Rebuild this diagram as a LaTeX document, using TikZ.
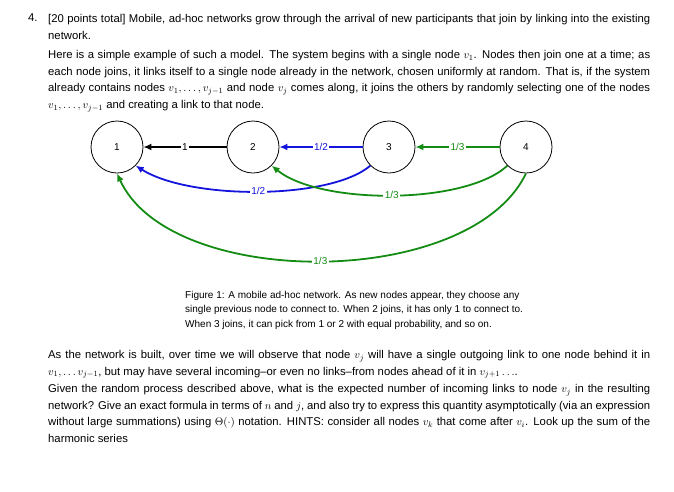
\documentclass[tikz,border=0pt]{standalone}
\usepackage{fontspec}
\setmainfont{Liberation Sans}
\usepackage{amsmath}
\usetikzlibrary{arrows.meta}
\begin{document}
\begin{tikzpicture}[x=1pt,y=-1pt,
  circ/.style={circle,draw,thick,minimum size=52pt,inner sep=0pt,font=\normalsize},
  lbl/.style={fill=white,inner sep=1.5pt,font=\normalsize},
  para/.style={anchor=north west,align=justify,text width=602pt,font=\fontsize{11.3}{16.8}\selectfont,inner sep=0pt},
  arr/.style={-{Latex[length=8pt,width=7pt]},line width=1.8pt}]
\useasboundingbox (0,0) rectangle (674,491);
\definecolor{myblue}{RGB}{20,20,220}
\definecolor{mygreen}{RGB}{20,140,20}
\node[anchor=north west,inner sep=0pt,font=\fontsize{11.3}{16.8}\selectfont] (num) at (28,14) {4.};
\node[para] (p1) at (48,14) {[20 points total] Mobile, ad-hoc networks grow through the arrival of new participants that join by linking into the existing network.};
\node[para] (p2) at (48,50) {Here is a simple example of such a model. The system begins with a single node $v_1$. Nodes then join one at a time; as each node joins, it links itself to a single node already in the network, chosen uniformly at random. That is, if the system already contains nodes $v_1,\ldots,v_{j-1}$ and node $v_j$ comes along, it joins the others by randomly selecting one of the nodes $v_1,\ldots,v_{j-1}$ and creating a link to that node.};
\node[circ] (n1) at (117,147) {1};
\node[circ] (n2) at (253,147) {2};
\node[circ] (n3) at (389,147) {3};
\node[circ] (n4) at (526,147) {4};
\draw[arr] (n2) -- node[lbl]{1} (n1);
\draw[arr,myblue] (n3) -- node[lbl,text=myblue]{1/2} (n2);
\draw[arr,mygreen] (n4) -- node[lbl,text=mygreen]{1/3} (n3);
\draw[arr,myblue] (n3.south west) .. controls (330,200) and (190,200) .. node[lbl,text=myblue,pos=0.5]{1/2} (n1.south east);
\draw[arr,mygreen] (n4.south west) .. controls (465,205) and (320,205) .. node[lbl,text=mygreen,pos=0.5]{1/3} (n2.south east);
\draw[arr,mygreen] (n4.south) .. controls (470,290) and (170,290) .. node[lbl,text=mygreen,pos=0.5]{1/3} (n1.south);
\node[anchor=north west,align=left,inner sep=0pt,font=\fontsize{10}{14.5}\selectfont] (cap) at (185,291) {Figure 1: A mobile ad-hoc network. As new nodes appear, they choose any\\single previous node to connect to. When 2 joins, it has only 1 to connect to.\\When 3 joins, it can pick from 1 or 2 with equal probability, and so on.};
\node[para] (p3) at (48,350) {As the network is built, over time we will observe that node $v_j$ will have a single outgoing link to one node behind it in $v_1,\ldots v_{j-1}$, but may have several incoming--or even no links--from nodes ahead of it in $v_{j+1}\ldots$.};
\node[para] (p4) at (48,384) {Given the random process described above, what is the expected number of incoming links to node $v_j$ in the resulting network? Give an exact formula in terms of $n$ and $j$, and also try to express this quantity asymptotically (via an expression without large summations) using $\Theta(\cdot)$ notation. HINTS: consider all nodes $v_k$ that come after $v_i$. Look up the sum of the harmonic series};
\end{tikzpicture}
\end{document}
